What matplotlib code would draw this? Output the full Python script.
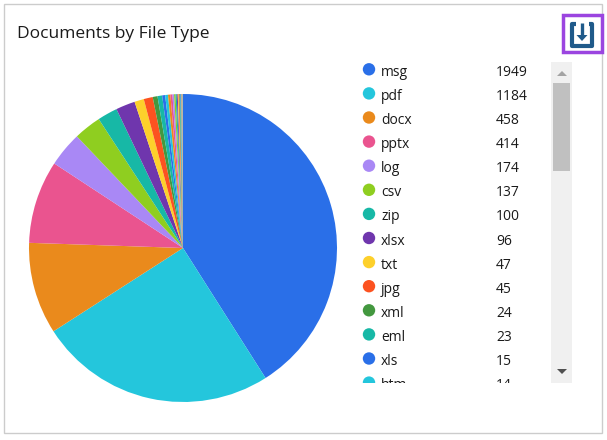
import matplotlib
matplotlib.use('Agg')
import matplotlib.pyplot as plt
from matplotlib.patches import Rectangle, Polygon, Circle

plt.rcParams['font.family'] = ['Open Sans', 'DejaVu Sans']

# values from the list, the tail past htm is estimated from the thin slices
types = ['msg', 'pdf', 'docx', 'pptx', 'log', 'csv', 'zip', 'xlsx', 'txt', 'jpg', 'xml', 'eml', 'xls', 'htm']
counts = [1949, 1184, 458, 414, 174, 137, 100, 96, 47, 45, 24, 23, 15, 14]
tail_counts = [12, 10, 8, 7, 6, 5, 4, 4, 3, 3, 2, 2, 2, 1, 1, 1, 1, 1, 1]

palette = ['#2a6fe8', '#24c6dc', '#ea8a1c', '#ea548f', '#a988f5', '#8fce20',
           '#17b8a6', '#6f36ad', '#fdd02b', '#fc5220', '#43983f', '#17b8a6']

W, H = 607, 440
fig = plt.figure(figsize=(W / 100, H / 100), dpi=100)

# whole figure axes in pixel coordinates for the card, list and scrollbar
bg = fig.add_axes([0, 0, 1, 1])
bg.set_xlim(0, W)
bg.set_ylim(H, 0)
bg.axis('off')

bg.add_patch(Rectangle((3.5, 4.5), 598, 429, fc='white', ec='#cccccc', lw=1))
bg.text(17, 33.5, 'Documents by File Type', fontsize=12.55, color='#1a1a1a', va='center', ha='left')

# pie
cx, cy, r = 183, 248, 154
pie_ax = fig.add_axes([(cx - r) / W, 1 - (cy + r) / H, 2 * r / W, 2 * r / H])
all_counts = counts + tail_counts
colors = [palette[i % len(palette)] for i in range(len(all_counts))]
pie_ax.pie(all_counts, colors=colors, startangle=90, counterclock=False, radius=1,
           wedgeprops={'linewidth': 0})
pie_ax.set_xlim(-1, 1)
pie_ax.set_ylim(-1, 1)

# list, the last row gets cut off at the bottom of the scroll area
clip = Rectangle((350, 58), 200, 325, transform=bg.transData)
for i, (name, val) in enumerate(zip(types, counts)):
    y = 70 + i * 24.1
    dot = Circle((369, y - 0.7), 6.2, fc=colors[i], ec='none')
    bg.add_patch(dot)
    dot.set_clip_path(clip)
    t1 = bg.text(381, y + 2.3, name, fontsize=10, color='#1a1a1a', va='center', ha='left', clip_on=True)
    t2 = bg.text(496, y + 2.3, str(val), fontsize=10, color='#1a1a1a', va='center', ha='left', clip_on=True)
    t1.set_clip_path(clip)
    t2.set_clip_path(clip)

# scrollbar
bg.add_patch(Rectangle((551, 62), 21, 321, fc='#f0f0f0', ec='none'))
bg.add_patch(Rectangle((553, 83), 17, 88, fc='#c0c0c0', ec='none'))
bg.add_patch(Polygon([[557, 76], [567, 76], [562, 71]], fc='#a3a3a3', ec='none'))
bg.add_patch(Polygon([[557, 369], [567, 369], [562, 374]], fc='#505050', ec='none'))

# export button
bg.add_patch(Rectangle((562.5, 15.5), 39, 37, fc='white', ec='#9b45e0', lw=2.5))
blue = '#1f5a8a'
bg.plot([575.5, 572, 572, 592, 592, 588.5], [24.5, 24.5, 46.5, 46.5, 24.5, 24.5], color=blue, lw=3,
        solid_joinstyle='round', solid_capstyle='butt')
bg.plot([582, 582], [23, 37], color=blue, lw=2.4, solid_capstyle='butt')
bg.add_patch(Polygon([[576.5, 35], [587.5, 35], [582, 41]], fc=blue, ec='none'))

fig.savefig('out.png', dpi=100)
